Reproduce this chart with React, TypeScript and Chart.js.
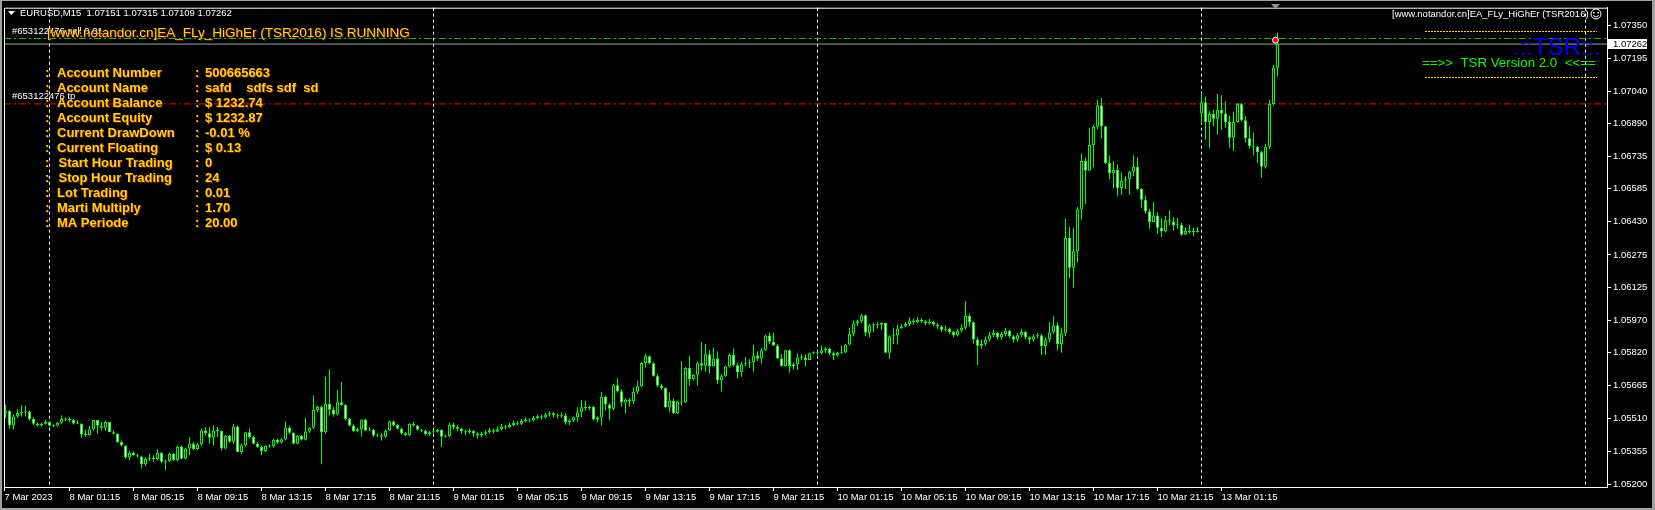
import React, { useEffect, useRef } from "react";
import { Chart, registerables } from "chart.js";

Chart.register(...registerables);

// EURUSD M15 bars. Index 0 = 7 Mar 2023 21:15; 8 Mar 00:00 = 11; 9 Mar = 107; 10 Mar = 203; 13 Mar = 299
const closes: number[] = [
  1.05545, 1.05477, 1.05519, 1.05536, 1.05539, 1.05542, 1.05507, 1.05485, 1.05477, 1.05485,
  1.05494, 1.05476, 1.05476, 1.0549, 1.05508, 1.05505, 1.05503, 1.05486, 1.05485, 1.05435,
  1.05433, 1.0546, 1.05503, 1.05476, 1.05466, 1.05493, 1.05446, 1.05438, 1.054, 1.05383,
  1.05327, 1.05349, 1.05338, 1.05332, 1.05296, 1.05321, 1.05325, 1.05319, 1.05349, 1.05307,
  1.05311, 1.05344, 1.05315, 1.05379, 1.05322, 1.05369, 1.05392, 1.05367, 1.05389, 1.05454,
  1.05441, 1.0542, 1.05452, 1.05451, 1.05369, 1.05429, 1.05401, 1.05472, 1.05353, 1.05383,
  1.05445, 1.05423, 1.05392, 1.05376, 1.05358, 1.05381, 1.05379, 1.0541, 1.05397, 1.05413,
  1.05466, 1.05443, 1.05392, 1.05429, 1.0541, 1.05449, 1.05466, 1.0555, 1.05564, 1.05446,
  1.05578, 1.05551, 1.05528, 1.05586, 1.05573, 1.05508, 1.05477, 1.05451, 1.0546, 1.05505,
  1.05454, 1.05457, 1.0543, 1.05432, 1.05424, 1.05454, 1.05496, 1.05479, 1.05462, 1.05441,
  1.05432, 1.05485, 1.05477, 1.05457, 1.05452, 1.05437, 1.05445, 1.05449, 1.05457, 1.05424,
  1.05427, 1.05482, 1.0547, 1.05462, 1.0545, 1.05445, 1.05452, 1.0544, 1.0543, 1.05438,
  1.05445, 1.05455, 1.05448, 1.0546, 1.05472, 1.05468, 1.0548, 1.0549, 1.05485, 1.05498,
  1.05505, 1.055, 1.05512, 1.0552, 1.05515, 1.05528, 1.05535, 1.05525, 1.0552, 1.05524,
  1.05493, 1.055, 1.05516, 1.05539, 1.05562, 1.05559, 1.05565, 1.05505, 1.05514, 1.05612,
  1.05575, 1.05556, 1.05666, 1.05637, 1.05585, 1.05599, 1.0559, 1.05635, 1.05661, 1.0577,
  1.05801, 1.05768, 1.05709, 1.05663, 1.05652, 1.05562, 1.05593, 1.05534, 1.05589, 1.05585,
  1.05746, 1.05694, 1.05714, 1.05768, 1.05757, 1.0581, 1.05756, 1.05791, 1.05689, 1.05708,
  1.05754, 1.05807, 1.05759, 1.05726, 1.05764, 1.05768, 1.05773, 1.05805, 1.05791, 1.05829,
  1.05898, 1.05869, 1.05852, 1.05791, 1.05756, 1.05829, 1.05756, 1.05764, 1.05794, 1.05795,
  1.05784, 1.05815, 1.05816, 1.05815, 1.05829, 1.05838, 1.05815, 1.05805, 1.05818, 1.05819,
  1.05856, 1.05906, 1.05954, 1.05965, 1.05993, 1.05911, 1.05946, 1.05946, 1.05948, 1.05957,
  1.05818, 1.05895, 1.05898, 1.05931, 1.0594, 1.05952, 1.05969, 1.0596, 1.05972, 1.05965,
  1.05955, 1.05962, 1.0595, 1.0594, 1.05925, 1.0593, 1.05915, 1.059, 1.0592, 1.05935,
  1.0599, 1.0596, 1.0588, 1.0585, 1.0586, 1.0588, 1.059, 1.0591, 1.0589, 1.05905,
  1.0592, 1.05895, 1.0588, 1.059, 1.05915, 1.0589, 1.0588, 1.05895, 1.059, 1.05849,
  1.05879, 1.05914, 1.05946, 1.05859, 1.05909, 1.06355, 1.06215, 1.06293, 1.06488, 1.06715,
  1.06669, 1.0679, 1.06875, 1.06976, 1.06878, 1.06705, 1.06658, 1.06674, 1.06589, 1.06623,
  1.0663, 1.06664, 1.06688, 1.06584, 1.06534, 1.06479, 1.06429, 1.0646, 1.06403, 1.06386,
  1.06437, 1.06432, 1.06414, 1.06417, 1.0637, 1.06389, 1.06383, 1.06383, 1.06386, 1.0699,
  1.06897, 1.06935, 1.06912, 1.06955, 1.06937, 1.06897, 1.06824, 1.06897, 1.06982, 1.06906,
  1.06821, 1.06785, 1.06782, 1.06757, 1.06688, 1.06782, 1.06982, 1.07151, 1.07262,
];

const highs: number[] = [
  1.05575, 1.0555, 1.05528, 1.05554, 1.05573, 1.0557, 1.05547, 1.05516, 1.05491, 1.0549,
  1.05503, 1.05497, 1.05482, 1.05493, 1.05524, 1.05516, 1.05516, 1.05507, 1.055, 1.05488,
  1.05457, 1.05477, 1.05503, 1.05503, 1.05493, 1.055, 1.05493, 1.05454, 1.05441, 1.05407,
  1.05384, 1.05357, 1.05357, 1.05345, 1.05336, 1.0533, 1.05345, 1.05338, 1.05366, 1.05353,
  1.05317, 1.05349, 1.05349, 1.05383, 1.05384, 1.05373, 1.05423, 1.054, 1.05395, 1.05462,
  1.05469, 1.05469, 1.05477, 1.05469, 1.05454, 1.05433, 1.05433, 1.05485, 1.05477, 1.05392,
  1.05448, 1.05462, 1.05429, 1.054, 1.05384, 1.05384, 1.05389, 1.05414, 1.05415, 1.05418,
  1.05497, 1.05477, 1.05446, 1.05433, 1.05433, 1.05513, 1.05469, 1.05617, 1.0557, 1.0557,
  1.05706, 1.0574, 1.05562, 1.05643, 1.05681, 1.05578, 1.05513, 1.05482, 1.05466, 1.05505,
  1.05508, 1.05469, 1.05462, 1.05438, 1.05441, 1.05457, 1.055, 1.055, 1.05482, 1.05466,
  1.05446, 1.05488, 1.05493, 1.0548, 1.05462, 1.05457, 1.05451, 1.05457, 1.05462, 1.0546,
  1.05435, 1.05488, 1.0549, 1.05478, 1.05468, 1.05458, 1.05462, 1.05455, 1.05445, 1.05448,
  1.05455, 1.05465, 1.05462, 1.0547, 1.05485, 1.0548, 1.0549, 1.055, 1.05498, 1.05508,
  1.05515, 1.0551, 1.05522, 1.0553, 1.05528, 1.05536, 1.05545, 1.0554, 1.05532, 1.05539,
  1.05534, 1.05508, 1.05519, 1.05562, 1.05598, 1.05593, 1.0557, 1.05568, 1.05519, 1.05635,
  1.05616, 1.05581, 1.05671, 1.05698, 1.05647, 1.05604, 1.05606, 1.05655, 1.05686, 1.05773,
  1.05813, 1.05805, 1.05773, 1.05717, 1.05671, 1.05655, 1.05632, 1.05604, 1.05593, 1.05779,
  1.0575, 1.05802, 1.05717, 1.05776, 1.05867, 1.05859, 1.05829, 1.05841, 1.05825, 1.05717,
  1.05757, 1.05815, 1.05838, 1.05771, 1.05774, 1.05798, 1.05787, 1.05856, 1.05825, 1.05841,
  1.05903, 1.05911, 1.05911, 1.05859, 1.0581, 1.05832, 1.05833, 1.05771, 1.05815, 1.0581,
  1.0581, 1.05818, 1.05825, 1.05825, 1.05852, 1.05844, 1.05841, 1.05825, 1.05822, 1.05849,
  1.05859, 1.05934, 1.05968, 1.05972, 1.05999, 1.05996, 1.05952, 1.05957, 1.05962, 1.0596,
  1.05957, 1.05898, 1.05934, 1.05949, 1.05952, 1.05962, 1.05983, 1.05978, 1.05985, 1.0598,
  1.0597, 1.05975, 1.05968, 1.05955, 1.05945, 1.05945, 1.05935, 1.0592, 1.0593, 1.0595,
  1.0606, 1.06, 1.05965, 1.0589, 1.0588, 1.05895, 1.05915, 1.05925, 1.05915, 1.05915,
  1.05935, 1.05925, 1.059, 1.0591, 1.0593, 1.0592, 1.05895, 1.05905, 1.0591, 1.05905,
  1.0589, 1.0596, 1.05988, 1.0596, 1.05934, 1.06445, 1.06406, 1.06401, 1.06499, 1.0675,
  1.06731, 1.0687, 1.06883, 1.07002, 1.0701, 1.06878, 1.06742, 1.06715, 1.067, 1.06661,
  1.06643, 1.06669, 1.06742, 1.06731, 1.06587, 1.06553, 1.06491, 1.06522, 1.06476, 1.06448,
  1.06457, 1.06483, 1.06452, 1.06448, 1.06426, 1.06406, 1.06417, 1.06401, 1.06406, 1.07033,
  1.07017, 1.06948, 1.06955, 1.07028, 1.07022, 1.06994, 1.06927, 1.06945, 1.06986, 1.06986,
  1.06925, 1.06878, 1.06847, 1.06785, 1.06762, 1.06796, 1.07002, 1.07165, 1.07315,
];

const lows: number[] = [
  1.05513, 1.05462, 1.05459, 1.05513, 1.05519, 1.05519, 1.055, 1.0548, 1.05472, 1.05472,
  1.05482, 1.05472, 1.05469, 1.05472, 1.05485, 1.05497, 1.05493, 1.05482, 1.05485, 1.0542,
  1.05423, 1.0543, 1.05454, 1.05438, 1.05454, 1.05454, 1.05446, 1.05435, 1.05395, 1.05379,
  1.05322, 1.05315, 1.05335, 1.05327, 1.05276, 1.05287, 1.05311, 1.05307, 1.05315, 1.05302,
  1.05268, 1.05307, 1.05311, 1.0531, 1.05319, 1.05319, 1.05338, 1.05361, 1.05364, 1.05384,
  1.0543, 1.05392, 1.05384, 1.05423, 1.05361, 1.05366, 1.05398, 1.05392, 1.05353, 1.05345,
  1.05379, 1.05415, 1.05389, 1.05373, 1.05338, 1.05353, 1.05373, 1.05373, 1.05392, 1.05392,
  1.05407, 1.05438, 1.05389, 1.05389, 1.05407, 1.05407, 1.05443, 1.05462, 1.05539, 1.05296,
  1.05438, 1.05524, 1.05519, 1.05524, 1.0557, 1.055, 1.05472, 1.05446, 1.05446, 1.05426,
  1.05451, 1.05451, 1.05423, 1.05423, 1.05407, 1.0542, 1.05451, 1.05472, 1.05457, 1.05435,
  1.05427, 1.05427, 1.05472, 1.05454, 1.05446, 1.0543, 1.05427, 1.05441, 1.05443, 1.05376,
  1.0542, 1.05423, 1.0546, 1.0545, 1.0544, 1.05432, 1.05438, 1.05425, 1.05418, 1.05422,
  1.0543, 1.0544, 1.0544, 1.05445, 1.05455, 1.0546, 1.05465, 1.05475, 1.05478, 1.0548,
  1.05492, 1.05492, 1.05495, 1.05505, 1.05505, 1.0551, 1.0552, 1.05515, 1.0551, 1.05513,
  1.05482, 1.0548, 1.05493, 1.05493, 1.05516, 1.05547, 1.0555, 1.055, 1.05493, 1.05477,
  1.05547, 1.05503, 1.05547, 1.05632, 1.05565, 1.05534, 1.05565, 1.05578, 1.05624, 1.05658,
  1.05748, 1.05764, 1.05705, 1.05658, 1.05647, 1.05559, 1.05539, 1.05531, 1.05531, 1.0557,
  1.05582, 1.05663, 1.05686, 1.05663, 1.05733, 1.05729, 1.0572, 1.05753, 1.05671, 1.05637,
  1.05705, 1.05748, 1.05753, 1.05698, 1.05705, 1.05756, 1.05745, 1.05729, 1.05779, 1.05767,
  1.05825, 1.05859, 1.05849, 1.05788, 1.05753, 1.05753, 1.05724, 1.0574, 1.05737, 1.05782,
  1.05753, 1.05782, 1.0581, 1.05807, 1.0581, 1.05818, 1.05807, 1.05784, 1.05799, 1.05813,
  1.05815, 1.05853, 1.05895, 1.05942, 1.05957, 1.05895, 1.0589, 1.05915, 1.05931, 1.05923,
  1.05815, 1.0579, 1.05859, 1.05856, 1.05931, 1.05937, 1.05942, 1.0595, 1.05955, 1.05955,
  1.05945, 1.05948, 1.05942, 1.0593, 1.05915, 1.05918, 1.05905, 1.0589, 1.05895, 1.05912,
  1.05925, 1.0594, 1.0586, 1.0576, 1.05835, 1.0585, 1.0587, 1.0589, 1.0588, 1.0588,
  1.05895, 1.05885, 1.05865, 1.0587, 1.0589, 1.0588, 1.0586, 1.0587, 1.05885, 1.05807,
  1.05807, 1.05867, 1.05906, 1.05828, 1.05818, 1.05895, 1.06166, 1.06123, 1.0624, 1.06441,
  1.06514, 1.06669, 1.06685, 1.06863, 1.06819, 1.067, 1.0663, 1.06587, 1.0655, 1.06556,
  1.06584, 1.06556, 1.06643, 1.0658, 1.06494, 1.06468, 1.06398, 1.06429, 1.06375, 1.06359,
  1.0638, 1.06414, 1.0639, 1.06398, 1.06364, 1.0637, 1.06375, 1.06364, 1.0638, 1.0689,
  1.06816, 1.06774, 1.06878, 1.06839, 1.0686, 1.0687, 1.06777, 1.06762, 1.06894, 1.06901,
  1.06801, 1.06773, 1.06742, 1.06705, 1.06638, 1.0668, 1.0677, 1.06975, 1.07109,
];

// opens equal the previous close, except where a gap occurs
const gapOpens: Record<number, number> = { 0: 1.05537, 299: 1.06937 };

const priceTicks = [
  1.052, 1.05355, 1.0551, 1.05665, 1.0582, 1.0597, 1.06125, 1.06275,
  1.0643, 1.06585, 1.06735, 1.0689, 1.0704, 1.07195, 1.0735,
];
const timeTickIndex = [-0.25, 16, 32, 48, 64, 80, 96, 112, 128, 144, 160, 176, 192, 208, 224, 240, 256, 272, 288, 304];
const timeTickLabels = [
  "7 Mar 2023", "8 Mar 01:15", "8 Mar 05:15", "8 Mar 09:15", "8 Mar 13:15", "8 Mar 17:15",
  "8 Mar 21:15", "9 Mar 01:15", "9 Mar 05:15", "9 Mar 09:15", "9 Mar 13:15", "9 Mar 17:15",
  "9 Mar 21:15", "10 Mar 01:15", "10 Mar 05:15", "10 Mar 09:15", "10 Mar 13:15", "10 Mar 17:15",
  "10 Mar 21:15", "13 Mar 01:15",
];
const daySeparatorIndex = [11, 107, 203, 299, 395];

const bidPrice = 1.07262;
const sellOrderPrice = 1.07288;
const takeProfitPrice = 1.06982;
const sellArrow = { index: 317.5, price: 1.0728 };

const headerText = "EURUSD,M15  1.07151 1.07315 1.07109 1.07262";
const eaTag = "[www.notandor.cn]EA_FLy_HiGhEr (TSR2016)";
const runningTitle = "[www.notandor.cn]EA_FLy_HiGhEr (TSR2016) IS RUNNING";
const orderLabel = "#653122476 sell 0.01";
const tpLabel = "#653122476 tp";
const infoLabels = [
  "Account Number", "Account Name", "Account Balance", "Account Equity", "Current DrawDown",
  "Current Floating", "Start Hour Trading", "Stop Hour Trading", "Lot Trading", "Marti Multiply", "MA Periode",
];
const infoValues = [
  "500665663", "safd    sdfs sdf  sd", "$ 1232.74", "$ 1232.87", "-0.01 %",
  "$ 0.13", "0", "24", "0.01", "1.70", "20.00",
];
const tsrLogo = ".::TSR::.";
const versionText = "==>>  TSR Version 2.0  <<==";

const X_MIN = -0.375;
const X_MAX = 400.375;
const Y_MIN = 1.051893;
const Y_MAX = 1.074322;
const FONT = "'Liberation Sans', Arial, sans-serif";
const GOLD = "#FFD700";
const LIME = "#00FF00";

const overlayPlugin = {
  id: "mtOverlay",
  beforeDraw(chart: any) {
    const { ctx, width, height } = chart;
    ctx.save();
    ctx.fillStyle = "#000";
    ctx.fillRect(0, 0, width, height);
    ctx.restore();
  },
  afterDraw(chart: any) {
    const ctx: CanvasRenderingContext2D = chart.ctx;
    const area = chart.chartArea;
    const yS = chart.scales.y;
    ctx.save();
    // chart frame (left/top)
    ctx.strokeStyle = "#fff";
    ctx.lineWidth = 1;
    ctx.beginPath();
    ctx.moveTo(area.left + 0.5, area.bottom);
    ctx.lineTo(area.left + 0.5, area.top + 0.5);
    ctx.lineTo(area.right, area.top + 0.5);
    ctx.stroke();
    // window border
    ctx.fillStyle = "#a0a0a0";
    ctx.fillRect(0, 0, 2, 510);
    ctx.fillRect(0, 0, 1655, 1);
    ctx.fillRect(1652, 0, 3, 510);
    ctx.fillRect(0, 508, 1655, 2);

    ctx.textAlign = "left";
    ctx.textBaseline = "middle";
    // header
    ctx.fillStyle = "#fff";
    ctx.beginPath();
    ctx.moveTo(8, 11);
    ctx.lineTo(15, 11);
    ctx.lineTo(11.5, 15);
    ctx.closePath();
    ctx.fill();
    ctx.font = `9.5px ${FONT}`;
    ctx.fillText(headerText, 20, 13);
    ctx.fillText(orderLabel, 12, 31);
    ctx.fillText(tpLabel, 12, 96);
    ctx.fillText(eaTag, 1392, 14);
    // smiley
    ctx.strokeStyle = "#fff";
    ctx.beginPath();
    ctx.arc(1596, 14, 5, 0, Math.PI * 2);
    ctx.stroke();
    ctx.fillRect(1593, 12, 1.5, 1.5);
    ctx.fillRect(1597.5, 12, 1.5, 1.5);
    ctx.beginPath();
    ctx.arc(1596, 14.5, 2.5, 0.2, Math.PI - 0.2);
    ctx.stroke();

    // yellow dashed rules
    ctx.strokeStyle = GOLD;
    ctx.setLineDash([2, 1]);
    ctx.beginPath();
    ctx.moveTo(1425, 31.5);
    ctx.lineTo(1597, 31.5);
    ctx.moveTo(1425, 77.5);
    ctx.lineTo(1597, 77.5);
    ctx.stroke();
    ctx.setLineDash([]);

    // TSR logo
    ctx.fillStyle = "#0000FF";
    ctx.font = `24px ${FONT}`;
    ctx.textBaseline = "alphabetic";
    ctx.fillText(tsrLogo, 1513, 55);
    ctx.textBaseline = "middle";
    ctx.fillStyle = LIME;
    ctx.font = `13.3px ${FONT}`;
    ctx.fillText(versionText, 1422, 63);

    // gold texts with shadow
    const goldText = (t: string, x: number, y: number) => {
      ctx.fillStyle = "#7a1200";
      ctx.fillText(t, x + 1, y + 1);
      ctx.fillStyle = GOLD;
      ctx.fillText(t, x, y);
    };
    ctx.font = `13.5px ${FONT}`;
    goldText(runningTitle, 47, 33);
    ctx.font = `bold 13px ${FONT}`;
    infoLabels.forEach((lab, k) => {
      const y = 73 + 15 * k;
      goldText(":", 45, y);
      goldText(lab, lab.startsWith("St") ? 58.5 : 57, y);
      goldText(":", 195, y);
      goldText(infoValues[k], 205, y);
    });

    // current price label on axis
    const py = yS.getPixelForValue(bidPrice);
    ctx.fillStyle = "#fff";
    ctx.fillRect(area.right + 1, Math.round(py) - 5, 39, 10);
    ctx.fillStyle = "#000";
    ctx.font = `9.5px ${FONT}`;
    ctx.fillText(bidPrice.toFixed(5), area.right + 6, Math.round(py) + 0.5);

    // chart shift marker
    ctx.fillStyle = "#909090";
    ctx.beginPath();
    ctx.moveTo(1271, 4);
    ctx.lineTo(1280, 4);
    ctx.lineTo(1275.5, 9);
    ctx.closePath();
    ctx.fill();
    ctx.restore();
  },
};

export default function App() {
  const ref = useRef<HTMLCanvasElement>(null);
  useEffect(() => {
    document.body.style.margin = "0";
    document.body.style.background = "#000";
    const canvas = ref.current;
    if (!canvas) return;
    const opens = closes.map((c, i) => (gapOpens[i] !== undefined ? gapOpens[i] : closes[i - 1]));
    const idx = closes.map((_, i) => i);
    const hLine = (price: number) => [
      { x: X_MIN, y: price },
      { x: X_MAX, y: price },
    ];
    const tickFont = { family: FONT, size: 9.5 };

    const chart = new Chart(canvas, {
      type: "bar",
      data: {
        datasets: [
          {
            type: "bar",
            label: "wicks",
            data: idx.map((i) => ({ x: i, y: [lows[i], highs[i]] })) as any,
            backgroundColor: LIME,
            borderWidth: 0,
            barThickness: 1,
            maxBarThickness: 1,
            grouped: false,
            inflateAmount: 0,
            order: 2,
          } as any,
          {
            type: "bar",
            label: "bodies",
            data: idx.map((i) => ({ x: i, y: [opens[i], closes[i]] })) as any,
            backgroundColor: idx.map((i) => (closes[i] >= opens[i] ? "#000000" : "#FFFFFF")),
            borderColor: LIME,
            borderWidth: 1,
            borderSkipped: false,
            barThickness: 3,
            maxBarThickness: 3,
            minBarLength: 1,
            grouped: false,
            inflateAmount: 0,
            order: 1,
          } as any,
          {
            type: "line",
            label: "bid",
            data: hLine(bidPrice) as any,
            borderColor: "#9aa3ab",
            borderWidth: 1,
            pointRadius: 0,
            order: 3,
          } as any,
          {
            type: "line",
            label: "sell",
            data: hLine(sellOrderPrice) as any,
            borderColor: "#00C800",
            borderWidth: 1,
            borderDash: [7, 3, 2, 3],
            pointRadius: 0,
            order: 3,
          } as any,
          {
            type: "line",
            label: "tp",
            data: hLine(takeProfitPrice) as any,
            borderColor: "#FF0000",
            borderWidth: 1,
            borderDash: [7, 3, 2, 3],
            pointRadius: 0,
            order: 3,
          } as any,
          {
            type: "line",
            label: "arrow",
            data: [{ x: sellArrow.index, y: sellArrow.price }] as any,
            showLine: false,
            pointRadius: 3,
            pointBackgroundColor: "#FF0000",
            pointBorderColor: "#FFFFFF",
            pointBorderWidth: 1,
            order: 0,
          } as any,
        ],
      },
      options: {
        responsive: false,
        maintainAspectRatio: false,
        animation: false,
        events: [],
        layout: { padding: { left: 4, top: 4, right: 0, bottom: 0 }, autoPadding: false } as any,
        plugins: { legend: { display: false }, tooltip: { enabled: false } },
        scales: {
          x: {
            type: "linear",
            position: "bottom",
            min: X_MIN,
            max: X_MAX,
            bounds: "data",
            offset: false,
            afterBuildTicks: (s: any) => {
              s.ticks = timeTickIndex.map((v) => ({ value: v }));
            },
            afterFit: (s: any) => {
              s.height = 23;
            },
            ticks: {
              autoSkip: false,
              maxRotation: 0,
              minRotation: 0,
              align: "start",
              color: "#FFFFFF",
              font: tickFont,
              padding: 1,
              callback: (_v: any, i: number) => timeTickLabels[i],
            },
            grid: {
              offset: false,
              drawOnChartArea: false,
              drawTicks: true,
              tickLength: 4,
              color: "#FFFFFF",
              tickColor: "#FFFFFF",
            },
            border: { display: true, color: "#FFFFFF", width: 1 },
          } as any,
          sep: {
            type: "linear",
            position: "bottom",
            min: X_MIN,
            max: X_MAX,
            bounds: "data",
            offset: false,
            afterBuildTicks: (s: any) => {
              s.ticks = daySeparatorIndex.map((v) => ({ value: v }));
            },
            afterFit: (s: any) => {
              s.height = 0;
            },
            ticks: { display: false },
            grid: { offset: false, drawOnChartArea: true, drawTicks: false, color: "#FFFFFF", lineWidth: 1 },
            border: { display: false, dash: [3, 3] },
          } as any,
          y: {
            type: "linear",
            position: "right",
            min: Y_MIN,
            max: Y_MAX,
            bounds: "data",
            offset: false,
            afterBuildTicks: (s: any) => {
              s.ticks = priceTicks.map((v) => ({ value: v }));
            },
            afterFit: (s: any) => {
              s.width = 48;
            },
            ticks: {
              autoSkip: false,
              color: "#FFFFFF",
              font: tickFont,
              padding: 2,
              callback: (v: any) => Number(v).toFixed(5),
            },
            grid: {
              offset: false,
              drawOnChartArea: false,
              drawTicks: true,
              tickLength: 4,
              color: "#FFFFFF",
              tickColor: "#FFFFFF",
            },
            border: { display: true, color: "#FFFFFF", width: 1 },
          } as any,
        },
      },
      plugins: [overlayPlugin as any],
    });
    return () => chart.destroy();
  }, []);
  return <canvas ref={ref} width={1655} height={510} style={{ display: "block" }} />;
}
